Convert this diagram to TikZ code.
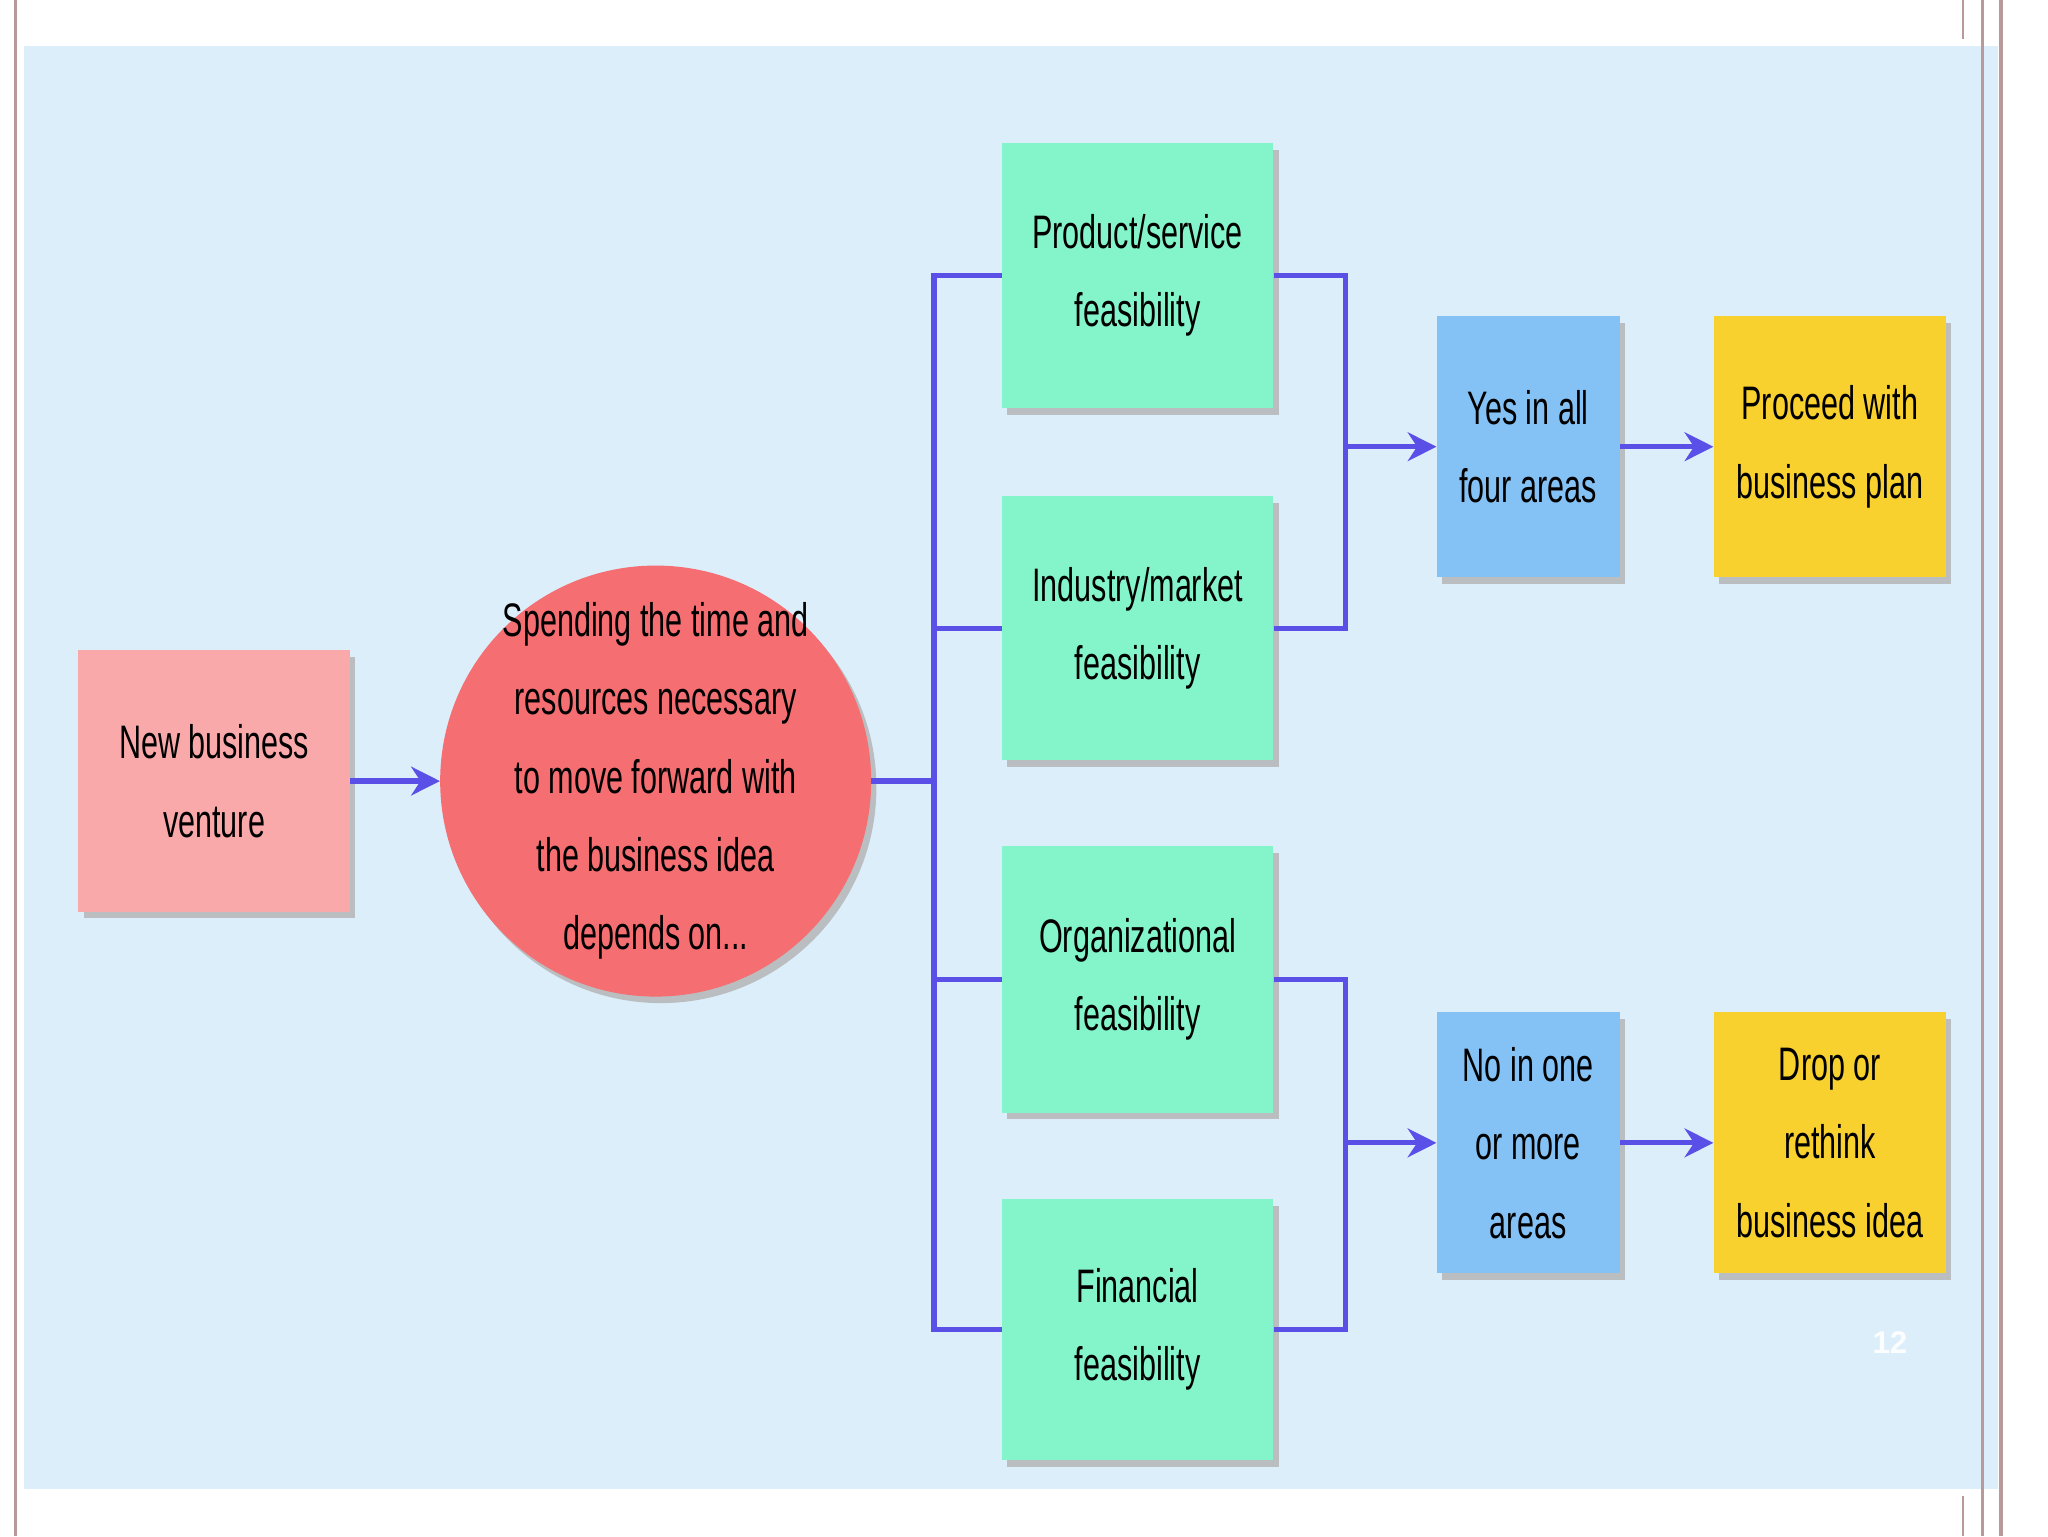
\documentclass[tikz,border=0pt]{standalone}
\usepackage{fontspec}
\setmainfont[FakeStretch=0.65]{Liberation Sans}
\setsansfont{Liberation Sans}
\usetikzlibrary{arrows.meta,shadows}
\definecolor{bg}{HTML}{DDEEFB}
\definecolor{ln}{HTML}{5A4FE6}
\definecolor{pinkb}{HTML}{FAA9AB}
\definecolor{redc}{HTML}{F46E72}
\definecolor{greenb}{HTML}{84F5CB}
\definecolor{blueb}{HTML}{84C2F5}
\definecolor{yelb}{HTML}{F8D12E}
\definecolor{brd}{HTML}{B89A9A}
\tikzset{
 bx/.style={draw=none,minimum width=#1,align=center,font=\fontsize{36}{60}\selectfont,
   drop shadow={shadow xshift=4pt,shadow yshift=-5pt,fill=gray!60,opacity=0.8}},
 conn/.style={ln,line width=4pt},
 arr/.style={conn,-{Stealth[length=22pt,width=22pt]}},
}
\begin{document}
\begin{tikzpicture}[x=1pt,y=-1pt]
\useasboundingbox (0,0) rectangle (1568,1176);
\fill[white] (0,0) rectangle (1568,1176);
\fill[bg] (18,35) rectangle (1530,1140);
\draw[brd,line width=2pt] (12,0) -- (12,1176);
\draw[brd,line width=2pt] (1503,0) -- (1503,30) (1503,1145) -- (1503,1176);
\draw[brd,line width=2pt] (1518,0) -- (1518,1176);
\draw[brd,line width=3pt] (1532,0) -- (1532,1176);
\node[bx=208pt,fill=pinkb,minimum height=200pt] (nbv) at (164,598) {New business\\venture};
\node[circle,inner sep=0pt,fill=redc,minimum size=330pt,
  drop shadow={shadow xshift=4pt,shadow yshift=-5pt,fill=gray!60,opacity=0.8}] (sp) at (502,598) {};
\node[align=center,font=\fontsize{36}{60}\selectfont] (spt) at (sp.center)
  {Spending the time and\\resources necessary\\to move forward with\\the business idea\\depends on...};
\node[bx=208pt,fill=greenb,minimum height=203pt] (g1) at (871,211) {Product/service\\feasibility};
\node[bx=208pt,fill=greenb,minimum height=202pt] (g2) at (871,481) {Industry/market\\feasibility};
\node[bx=208pt,fill=greenb,minimum height=204pt] (g3) at (871,750) {Organizational\\feasibility};
\node[bx=208pt,fill=greenb,minimum height=200pt] (g4) at (871,1018) {Financial\\feasibility};
\node[bx=140pt,fill=blueb,minimum height=200pt] (b1) at (1170,342) {Yes in all\\four areas};
\node[bx=140pt,fill=blueb,minimum height=200pt] (b2) at (1170,875) {No in one\\or more\\areas};
\node[bx=178pt,fill=yelb,minimum height=200pt] (y1) at (1401,342) {Proceed with\\business plan};
\node[bx=178pt,fill=yelb,minimum height=200pt] (y2) at (1401,875) {Drop or\\rethink\\business idea};
\node[text=white!90!bg,font=\sffamily\bfseries\fontsize{24}{28}\selectfont] (pg) at (1447,1028) {12};
\coordinate (L) at (715,598);
\coordinate (R1) at (1030,342);
\coordinate (R2) at (1030,875);
\draw[arr] (nbv.east) -- (sp.west);
\draw[conn] (sp.east) -- (L);
\draw[conn] (g1.west) -| (L) |- (g4.west);
\draw[conn] (g2.west) -- (g2.west -| L);
\draw[conn] (g3.west) -- (g3.west -| L);
\draw[conn] (g1.east) -| (R1) |- (g2.east);
\draw[conn] (g3.east) -| (R2) |- (g4.east);
\draw[arr] (R1) -- (b1.west);
\draw[arr] (R2) -- (b2.west);
\draw[arr] (b1.east) -- (y1.west);
\draw[arr] (b2.east) -- (y2.west);
\end{tikzpicture}
\end{document}
